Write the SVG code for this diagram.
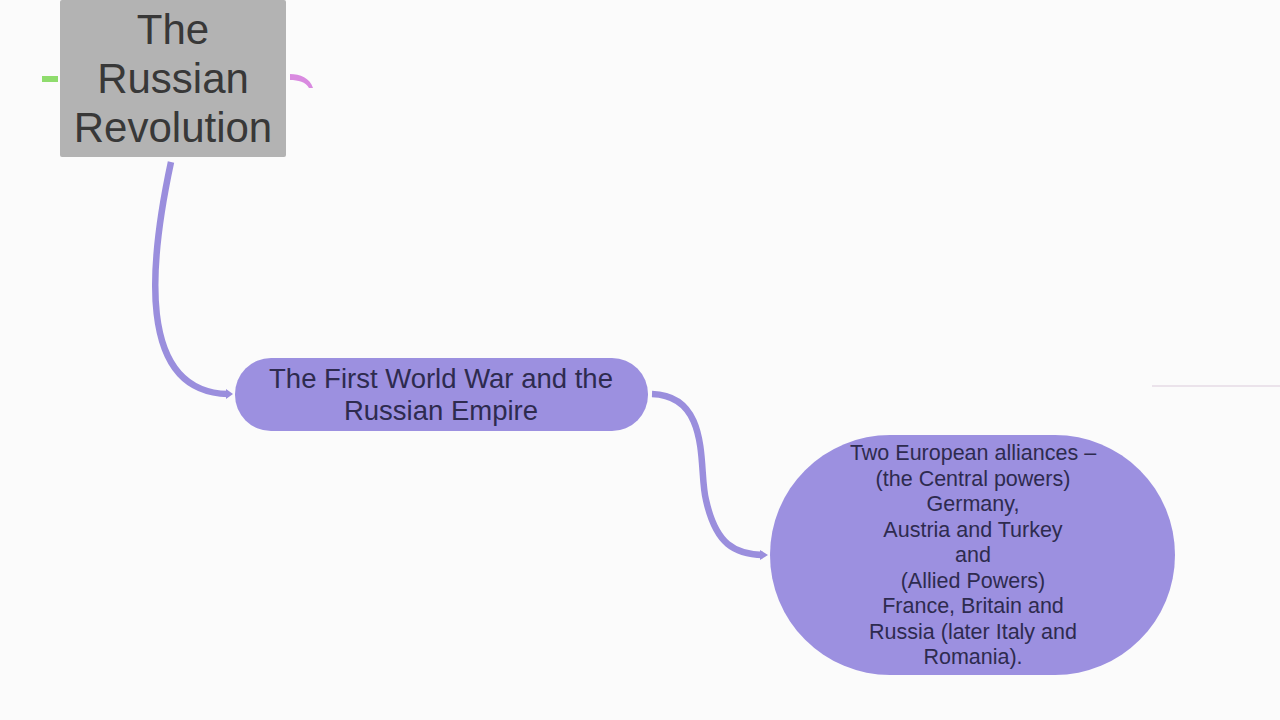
<svg xmlns="http://www.w3.org/2000/svg" width="1280" height="720" viewBox="0 0 1280 720">
<style>
.conn{fill:none;stroke:#9a8edd;stroke-width:6.5;stroke-linecap:butt}
.node{fill:#9c90e0}
.t{font-family:"Liberation Sans",Arial,sans-serif;fill:#2e2b4f;text-anchor:middle}
.s{font-size:21.5px}
.root{font-family:"Liberation Sans",Arial,sans-serif;fill:#383838;text-anchor:middle;font-size:42px}
</style>
<rect width="1280" height="720" fill="#fbfbfb"/>
<g id="connectors">
<path class="conn" d="M171,162 C150,260 135,392 228,394"/>
<path d="M226,389 L233,394 L226,399 Z" fill="#9a8edd"/>
<path class="conn" d="M652,394 C712,396 698,470 706,500 C716,545 735,554 763,555"/>
<path d="M760,550 L768,555 L760,560 Z" fill="#9a8edd"/>
<path d="M42,76 L58,76 L58,82 L42,82 Z" fill="#8fdc6d"/>
<path d="M290,74 C300,74 310,78 313,88 L309,88 C306,82 298,80 290,80 Z" fill="#d98ae0"/>
<line x1="1152" y1="386" x2="1280" y2="386" stroke="#e6dbe6" stroke-width="1.5"/>
</g>
<g id="root">
<rect x="60" y="0" width="226" height="157" fill="#b3b3b3" rx="2"/>
<text class="root" x="173" y="44">The</text>
<text class="root" x="173" y="93">Russian</text>
<text class="root" x="173" y="142">Revolution</text>
</g>
<g id="node-ww1">
<rect class="node" x="235" y="358" width="413" height="73" rx="36" ry="36"/>
<text class="t" font-size="27.5" x="441" y="388">The First World War and the</text>
<text class="t" font-size="27.5" x="441" y="420">Russian Empire</text>
</g>
<g id="node-alliances">
<rect class="node" x="770" y="435" width="405" height="240" rx="120" ry="120"/>
<text class="t s" x="973" y="460">Two European alliances –</text>
<text class="t s" x="973" y="486">(the Central powers)</text>
<text class="t s" x="973" y="511">Germany,</text>
<text class="t s" x="973" y="537">Austria and Turkey</text>
<text class="t s" x="973" y="562">and</text>
<text class="t s" x="973" y="588">(Allied Powers)</text>
<text class="t s" x="973" y="613">France, Britain and</text>
<text class="t s" x="973" y="639">Russia (later Italy and</text>
<text class="t s" x="973" y="664">Romania).</text>
</g>
</svg>
